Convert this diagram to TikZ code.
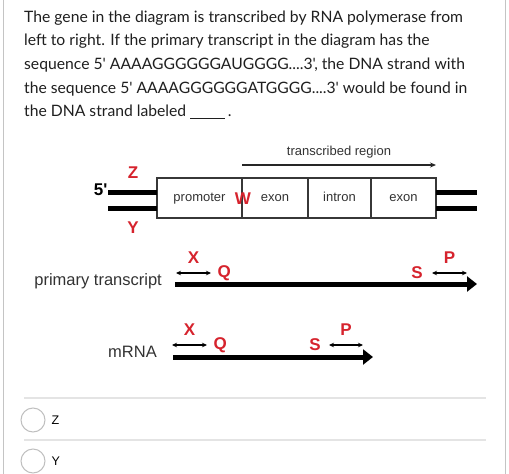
\documentclass[tikz,border=0pt]{standalone}
\usepackage{fontspec}
\usepackage{tikz}
\usetikzlibrary{arrows.meta, positioning}
\newfontfamily\latofont{Lato}
\newfontfamily\arialfont{Liberation Sans}
\definecolor{labelred}{RGB}{214,35,45}
\definecolor{boxline}{RGB}{55,55,55}
\definecolor{diagtext}{RGB}{50,50,50}
\definecolor{frameline}{RGB}{196,196,196}
\definecolor{ruleline}{RGB}{228,228,228}
\tikzset{
    segbox/.style={rectangle, draw=boxline, line width=1.2pt, outer sep=0pt, minimum height=40pt, text height=9pt, text depth=3pt, font=\arialfont\fontsize{13}{15}\selectfont, text=diagtext},
    strand/.style={line width=5pt, black},
    transcript/.style={line width=5pt, black, -{Triangle[length=10pt,width=15pt]}},
    spanarrow/.style={{Stealth[length=5pt,width=4.5pt]}-{Stealth[length=5pt,width=4.5pt]}, line width=1.1pt, black},
    redlbl/.style={font=\arialfont\bfseries\fontsize{17}{19}\selectfont, text=labelred, inner sep=1pt},
}

\begin{document}
\begin{tikzpicture}[
    x=1pt, y=-1pt,
    lbl/.style={font=\arialfont\fontsize{16.5}{19}\selectfont, text=diagtext, inner sep=0pt},
    radio/.style={circle, draw=gray!50, line width=1pt, fill=white, minimum size=24pt, inner sep=0pt},
    choice/.style={font=\arialfont\fontsize{12.5}{14}\selectfont, inner sep=0pt}
]
\useasboundingbox (0,0) rectangle (509,474);

% Frame
\draw[frameline, line width=1pt] (3,0) -- (3,474);
\draw[frameline, line width=1pt] (505.5,0) -- (505.5,474);

% Question text
\node[anchor=north west, align=left, inner sep=0pt, font=\latofont\fontsize{15.7}{23.6}\selectfont, text=black!88] (question) at (24,10.5) {The gene in the diagram is transcribed by RNA polymerase from\\
left to right. If the primary transcript in the diagram has the\\
sequence 5' AAAAGGGGGGAUGGGG....3', the DNA strand with\\
the sequence 5' AAAAGGGGGGATGGGG....3' would be found in\\
the DNA strand labeled \rule[-2pt]{35pt}{1.1pt}\,.};

% Gene boxes
\node[segbox, minimum width=85pt] (promoter) at (199.5,198) {promoter};
\node[segbox, minimum width=66pt, right=0pt of promoter] (exon1) {exon};
\node[segbox, minimum width=63pt, right=0pt of exon1] (intron) {intron};
\node[segbox, minimum width=65pt, right=0pt of intron] (exon2) {exon};

% DNA strands
\coordinate (l-top) at (108,192);
\coordinate (l-bot) at (108,208);
\coordinate (r-top) at (477,192);
\coordinate (r-bot) at (477,208);
\draw[strand] (l-top) -- (l-top -| promoter.west);
\draw[strand] (l-bot) -- (l-bot -| promoter.west);
\draw[strand] (r-top -| exon2.east) -- (r-top);
\draw[strand] (r-bot -| exon2.east) -- (r-bot);

\node[anchor=base east, font=\arialfont\bfseries\fontsize{17}{19}\selectfont, inner sep=0pt] (five-prime) at (107.5,195) {5'};
\node[redlbl] (z-lbl) at (133,173) {Z};
\node[redlbl] (y-lbl) at (133,228) {Y};
\node[redlbl] (w-lbl) at (243,199) {W};

% Transcribed region
\draw[-{Stealth[length=6pt,width=5pt]}, line width=1.2pt, black!85] ([yshift=13pt]exon1.north west) -- node[above=6pt, inner sep=0pt, font=\arialfont\fontsize{13}{15}\selectfont, text=diagtext] (tr-lbl) {transcribed region} ([yshift=13pt]exon2.north east);

% Primary transcript
\node[lbl, anchor=base east] (pt-lbl) at (162,285) {primary transcript};
\coordinate (pt-start) at (175,284);
\coordinate (pt-end) at (477,284);
\draw[transcript] (pt-start) -- (pt-end);

\coordinate (pt-x1) at (176,273);
\coordinate (pt-x2) at (211,273);
\draw[spanarrow] (pt-x1) -- node[redlbl, above=7.5pt] (pt-x) {X} (pt-x2) node[redlbl, right=5pt] (pt-q) {Q};

\coordinate (pt-s1) at (432,273);
\coordinate (pt-s2) at (467,273);
\draw[spanarrow] (pt-s1) -- node[redlbl, above=7.5pt] (pt-p) {P} (pt-s2);
\node[redlbl, left=8pt of pt-s1] (pt-s) {S};

% mRNA
\node[lbl, anchor=base east] (mrna-lbl) at (157,357) {mRNA};
\coordinate (mrna-start) at (173,357);
\coordinate (mrna-end) at (373,357);
\draw[transcript] (mrna-start) -- (mrna-end);

\coordinate (mrna-x1) at (172,345);
\coordinate (mrna-x2) at (207,345);
\draw[spanarrow] (mrna-x1) -- node[redlbl, above=7.5pt] (mrna-x) {X} (mrna-x2) node[redlbl, right=5pt] (mrna-q) {Q};

\coordinate (mrna-s1) at (329,345);
\coordinate (mrna-s2) at (363,345);
\draw[spanarrow] (mrna-s1) -- node[redlbl, above=7.5pt] (mrna-p) {P} (mrna-s2);
\node[redlbl, left=7pt of mrna-s1] (mrna-s) {S};

% Answer choices
\draw[ruleline, line width=1.2pt] (24,398) -- (486,398);
\draw[ruleline, line width=1.2pt] (24,440) -- (486,440);
\node[radio] (opt-z) at (33,420) {};
\node[choice, right=6pt of opt-z] (opt-z-lbl) {Z};
\node[radio] (opt-y) at (33,461) {};
\node[choice, right=6pt of opt-y] (opt-y-lbl) {Y};

\end{tikzpicture}
\end{document}
